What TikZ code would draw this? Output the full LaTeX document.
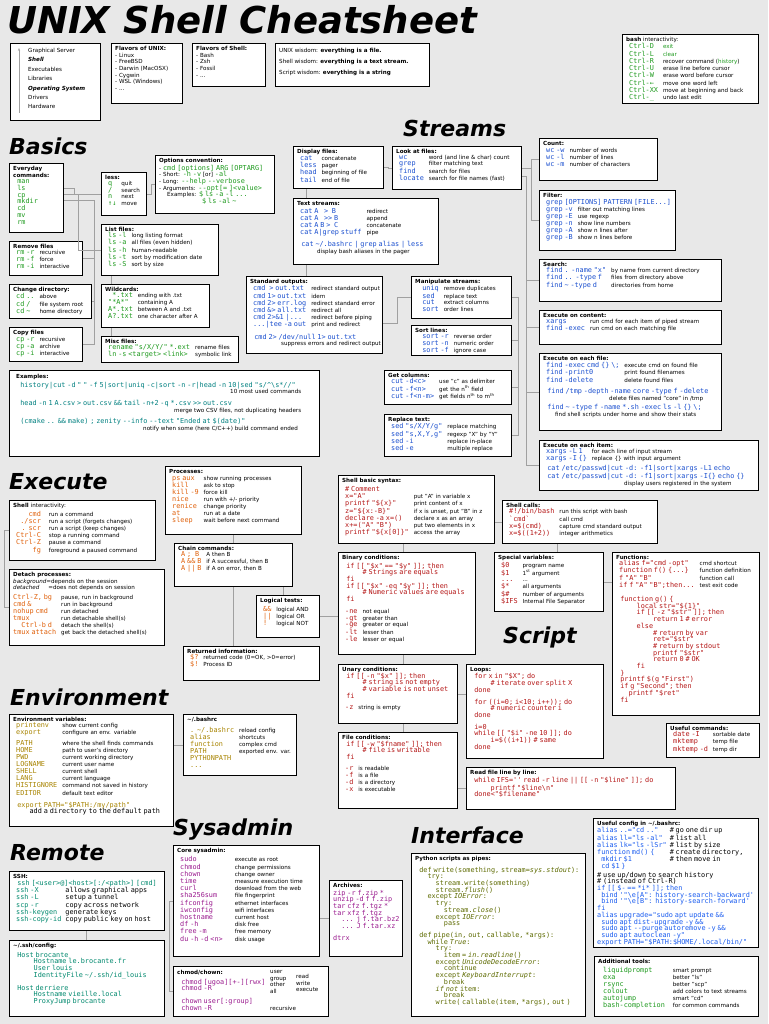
\documentclass[tikz,border=0pt]{standalone}
\usepackage{fontspec}
\usepackage{array}
\setmainfont{DejaVu Sans}
\newfontfamily\cd[Scale=1.22,Ligatures=TeXOff]{DejaVu Sans Mono}
\usetikzlibrary{arrows.meta}
\definecolor{bg}{HTML}{E8E8E8}
\definecolor{cB}{HTML}{1E9A1E}
\definecolor{cS}{HTML}{1A4FCF}
\definecolor{cE}{HTML}{E0600A}
\definecolor{cR}{HTML}{B51616}
\definecolor{cV}{HTML}{A88400}
\definecolor{cY}{HTML}{9A1A8E}
\definecolor{cT}{HTML}{00896E}
\definecolor{cP}{HTML}{5E6B00}
\definecolor{cC}{HTML}{1A5CF0}
\definecolor{cX}{HTML}{008080}
\definecolor{ln}{HTML}{A0A0A0}
\newcommand\tld{\textasciitilde}
\newcommand\bs{\textbackslash}
\newcommand\ii[1]{\hspace*{#1\dimexpr 4.1pt\relax}}
\newcommand\tb[2]{\begin{tabular}{@{\hspace{3pt}}>{\cd\color{#1}}l@{\hspace{5pt}}l@{}}#2\end{tabular}}
\newcommand\tbr[2]{\begin{tabular}{@{\hspace{3pt}}>{\cd\color{#1}}r@{\hspace{8pt}}l@{}}#2\end{tabular}}
\newcommand\mc[2]{\multicolumn{2}{@{\hspace{3pt}}l@{}}{\cd\color{#1}#2}}
\newcommand\bx[6]{%
 \node[box,minimum width=#4pt,minimum height=#5pt,anchor=north west] (#1) at (#2,#3) {};
 \node[txt,anchor=north west,text width=240pt] at ([xshift=4pt,yshift=-3pt]#1.north west) {\noindent #6};}
\begin{document}
\begin{tikzpicture}[x=1pt,y=-1pt,
 box/.style={draw=black,line width=1.1pt,fill=white,inner sep=0pt},
 txt/.style={inner sep=0pt,align=left,font=\fontsize{5.6}{6.7}\selectfont},
 conn/.style={draw=ln,line width=0.8pt},
 sect/.style={anchor=base west,inner sep=0pt,font=\fontsize{22}{22}\selectfont\bfseries\itshape}]
\useasboundingbox (0,0) rectangle (768,1024);
\fill[bg] (0,0) rectangle (768,1024);
% titles
\node[anchor=base west,inner sep=0pt,font=\fontsize{37}{37}\selectfont\bfseries\itshape] (title) at (7,34) {UNIX Shell Cheatsheet};
\node[sect] (sbas) at (9,155) {Basics};
\node[sect] (sstr) at (403,137) {Streams};
\node[sect] (sexe) at (9,489) {Execute};
\node[sect] (senv) at (10,705) {Environment};
\node[sect] (ssys) at (173,835) {Sysadmin};
\node[sect] (srem) at (10,860) {Remote};
\node[sect] (sscr) at (503,643) {Script};
\node[sect] (sint) at (411,843) {Interface};
% top boxes
\node[box,minimum width=90pt,minimum height=77pt,anchor=north west] (layers) at (10,43) {};
\draw[ln,line width=0.8pt,-{Stealth[length=3pt]}] ([shift={(9pt,-70pt)}]layers.north west) -- ([shift={(9pt,-5pt)}]layers.north west);
\node[txt,anchor=north west,font=\fontsize{5.6}{9.4}\selectfont] at ([shift={(18pt,-5pt)}]layers.north west)
 {Graphical Server\\{\bfseries\itshape Shell}\\Executables\\Libraries\\{\bfseries\itshape Operating System}\\Drivers\\Hardware};
\bx{fux}{111}{43}{71}{60}{{\bfseries Flavors of UNIX:}\\- Linux\\- FreeBSD\\- Darwin (MacOSX)\\- Cygwin\\- WSL (Windows)\\- ...}
\bx{fsh}{192}{43}{73}{43}{{\bfseries Flavors of Shell:}\\- Bash\\- Zsh\\- Fossil\\- ...}
\node[box,minimum width=154pt,minimum height=43pt,anchor=north west] (wis) at (275,43) {};
\node[txt,anchor=north west,font=\fontsize{5.6}{11}\selectfont] at ([shift={(4pt,-5pt)}]wis.north west)
 {UNIX wisdom: \textbf{everything is a file.}\\Shell wisdom: \textbf{everything is a text stream.}\\Script wisdom: \textbf{everything is a string}};
\bx{bint}{622}{34}{136}{69}{{\bfseries bash} interactivity:\\\tb{cB}{Ctrl-D & \color{cB}exit\\Ctrl-L & \color{cB}clear\\Ctrl-R & recover command ({\color{cB}history})\\Ctrl-U & erase line before cursor\\Ctrl-W & erase word before cursor\\Ctrl-← & move one word left\\Ctrl-XX & move at beginning and back\\Ctrl-\_ & undo last edit}}
% Basics
\bx{ev}{9}{163}{54}{69}{{\bfseries Everyday}\\{\bfseries commands:}\\\cd\color{cB}\ii{1}man\\\ii{1}ls\\\ii{1}cp\\\ii{1}mkdir\\\ii{1}cd\\\ii{1}mv\\\ii{1}rm}
\bx{less}{101}{172}{45}{43}{{\bfseries less:}\\\tb{cB}{q & quit\\/ & search\\n & next\\↑↓ & move}}
\bx{opt}{155}{155}{119}{58}{{\bfseries Options convention:}\\[1pt]- {\cd\color{cB}cmd [options] ARG [OPTARG]}\\- Short: {\cd\color{cB}-h -v} [or] {\cd\color{cB}-al}\\- Long: {\cd\color{cB}--help --verbose}\\- Arguments: {\cd\color{cB}--opt[= ]<value>}\\\hspace*{8pt}Examples: {\cd\color{cB}\$ ls -a -l ...}\\\hspace*{43pt}{\cd\color{cB}\$ ls -al \tld}}
\bx{list}{101}{224}{117}{51}{{\bfseries List files:}\\\tb{cB}{ls -l & long listing format\\ls -a & all files (even hidden)\\ls -h & human-readable\\ls -t & sort by modification date\\ls -S & sort by size}}
\bx{rm}{9}{241}{73}{34}{{\bfseries Remove files}\\\tb{cB}{rm -r & recursive\\rm -f & force\\rm -i & interactive}}
\bx{chd}{9}{284}{82}{34}{{\bfseries Change directory:}\\\tb{cB}{cd .. & above\\cd / & file system root\\cd \tld & home directory}}
\bx{wild}{101}{284}{108}{43}{{\bfseries Wildcards:}\\\tb{cB}{\ii{1}*.txt & ending with .txt\\\relax "*A*" & containing A\\\relax A*.txt & between A and .txt\\\relax A?.txt & one character after A}}
\bx{cpf}{9}{327}{73}{34}{{\bfseries Copy files}\\\tb{cB}{cp -r & recursive\\cp -a & archive\\cp -i & interactive}}
\bx{misc}{101}{336}{137}{26}{{\bfseries Misc files:}\\\tb{cB}{rename "s/X/Y/" *.ext & rename files\\ln -s <target> <link> & symbolic link}}
\node[box,minimum width=310pt,minimum height=86pt,anchor=north west] (ex) at (9,370) {};
\node[txt,anchor=north west,text width=300pt] at ([shift={(7pt,-4pt)}]ex.north west)
 {\noindent{\bfseries Examples:}\\[2pt]
 {\cd\color{cX}\ii{1}history|cut -d " " -f 5|sort|uniq -c|sort -n -r|head -n 10|sed "s/\textasciicircum\bs s*//"}\\
 \hspace*{214pt}10 most used commands\\[5pt]
 {\cd\color{cX}\ii{1}head -n 1 A.csv > out.csv \&\& tail -n+2 -q *.csv >> out.csv}\\
 \hspace*{158pt}merge two CSV files, not duplicating headers\\[5pt]
 {\cd\color{cX}\ii{1}(cmake .. \&\& make) ; zenity --info --text "Ended at \$(date)"}\\
 \hspace*{127pt}notify when some (here C/C++) build command ended};
% Streams
\bx{disp}{293}{146}{90}{42}{{\bfseries Display files:}\\\tb{cS}{cat & concatenate\\less & pager\\head & beginning of file\\tail & end of file}}
\bx{look}{392}{146}{129}{43}{{\bfseries Look at files:}\\\tb{cS}{wc & word (and line \& char) count\\grep & filter matching text\\find & search for files\\locate & search for file names (fast)}}
\bx{count}{539}{138}{118}{42}{{\bfseries Count:}\\[1pt]\tb{cS}{wc -w & number of words\\wc -l & number of lines\\wc -m & number of characters}}
\bx{filt}{539}{190}{136}{60}{{\bfseries Filter:}\\[1pt]\tb{cS}{\mc{cS}{grep [OPTIONS] PATTERN [FILE...]}\\grep -v & filter out matching lines\\grep -E & use regexp\\grep -n & show line numbers\\grep -A & show n lines after\\grep -B & show n lines before}}
\bx{ts}{293}{198}{145}{66}{{\bfseries Text streams:}\\[2pt]\tb{cS}{cat A \ \ > \ B & redirect\\cat A \ \ >> B & append\\cat A B > \ C & concatenate\\cat A|grep stuff & pipe}\\[4pt]{\cd\color{cS}\ii{1}cat \tld/.bashrc | grep alias | less}\\\hspace*{20pt}display bash aliases in the pager}
\bx{sout}{246}{276}{136}{77}{{\bfseries Standard outputs:}\\\tb{cS}{cmd \ > out.txt & redirect standard output\\cmd 1> out.txt & idem\\cmd 2> err.log & redirect standard error\\cmd \&> all.txt & redirect all\\cmd 2>\&1 |... & redirect before piping\\...|tee -a out & print and redirect}\\[4pt]{\cd\color{cS}\ii{1}cmd 2> /dev/null 1> out.txt}\\\hspace*{31pt}suppress errors and redirect output}
\bx{manip}{411}{276}{100}{42}{{\bfseries Manipulate streams:}\\\tb{cS}{\ii{1}uniq & remove duplicates\\\ii{1}sed & replace text\\\ii{1}cut & extract columns\\\ii{1}sort & order lines}}
\bx{sortl}{411}{325}{100}{30}{{\bfseries Sort lines:}\\\tb{cS}{\ii{1}sort -r & reverse order\\\ii{1}sort -n & numeric order\\\ii{1}sort -f & ignore case}}
\bx{gcol}{384}{370}{127}{34}{{\bfseries Get columns:}\\\tb{cS}{cut -d<c> & use "c" as delimiter\\cut -f<n> & get the n\textsuperscript{th} field\\cut -f<n-m> & get fields n\textsuperscript{th} to m\textsuperscript{th}}}
\bx{repl}{384}{414}{127}{42}{{\bfseries Replace text:}\\\tb{cS}{sed "s/X/Y/g" & replace matching\\sed "s,X,Y,g" & regexp "X" by "Y"\\sed -i & replace in-place\\sed -e & multiple replace}}
\bx{srch}{539}{259}{182}{42}{{\bfseries Search:}\\\tb{cS}{find . -name "x" & by name from current directory\\find .. -type f & files from directory above\\find \tld{} -type d & directories from home}}
\bx{exc}{539}{310}{182}{34}{{\bfseries Execute on content:}\\\tb{cS}{xargs & run cmd for each item of piped stream\\find -exec & run cmd on each matching file}}
\bx{exf}{539}{353}{182}{77}{{\bfseries Execute on each file:}\\[1pt]\tb{cS}{find -exec cmd \{\} \bs; & execute cmd on found file\\find -print0 & print found filenames\\find -delete & delete found files}\\[3pt]{\cd\color{cS}\ii{1}find /tmp -depth -name core -type f -delete}\\\hspace*{66pt}delete files named "core" in /tmp\\[3pt]{\cd\color{cS}\ii{1}find \tld{} -type f -name *.sh -exec ls -l \{\} \bs;}\\\hspace*{12pt}find shell scripts under home and show their stats}
\bx{exi}{539}{440}{219}{50}{{\bfseries Execute on each item:}\\\tb{cS}{xargs -L 1 & for each line of input stream\\xargs -I \{\} & replace \{\} with input argument}\\[2pt]{\cd\color{cS}\ii{1}cat /etc/passwd|cut -d: -f1|sort|xargs -L1 echo}\\{\cd\color{cS}\ii{1}cat /etc/passwd|cut -d: -f1|sort|xargs -I\{\} echo \{\}}\\\hspace*{81pt}display users registered in the system}
% Execute
\bx{shi}{9}{500}{146}{60}{{\bfseries Shell} interactivity:\\[2pt]\tbr{cE}{cmd & run a command\\./scr & run a script (forgets changes)\\. scr & run a script (keep changes)\\Ctrl-C & stop a running command\\Ctrl-Z & pause a command\\fg & foreground a paused command}}
\bx{proc}{165}{466}{136}{68}{{\bfseries Processes:}\\[1pt]\tb{cE}{ps aux & show running processes\\kill & ask to stop\\kill -9 & force kill\\nice & run with +/- priority\\renice & change priority\\at & run at a date\\sleep & wait before next command}}
\bx{chain}{174}{543}{118}{43}{{\bfseries Chain commands:}\\\tb{cE}{A ; \ B & A then B\\A \&\& B & if A successful, then B\\A || B & if A on error, then B}}
\bx{det}{9}{569}{155}{76}{{\bfseries Detach processes:}\\\textit{background}=depends on the session\\\textit{detached}\hspace{9pt}=does not depends on session\\[2pt]\begin{tabular}{@{}>{\cd\color{cE}}l@{\hspace{5pt}}l@{}}Ctrl-Z, bg & pause, run in background\\cmd \& & run in background\\nohup cmd & run detached\\tmux & run detachable shell(s)\\\ii{2}Ctrl-b d & detach the shell(s)\\tmux attach & get back the detached shell(s)\end{tabular}}
\bx{logi}{256}{595}{63}{42}{{\bfseries Logical tests:}\\[2pt]\tb{cE}{\&\& & logical AND\\|| & logical OR\\! & logical NOT}}
\bx{ret}{183}{646}{136}{34}{{\bfseries Returned information:}\\\tb{cE}{\$? & returned code (0=OK, >0=error)\\\$! & Process ID}}
% Script
\bx{sbs}{338}{475}{156}{68}{{\bfseries Shell basic syntax:}\\[2pt]\tb{cR}{\mc{cR}{\# Comment}\\x="A" & put "A" in variable x\\printf "\$\{x\}" & print content of x\\z="\$\{x:-B\}" & if x is unset, put "B" in z\\declare -a x=() & declare x as an array\\x+=("A" "B") & put two elements in x\\printf "\$\{x[0]\}" & access the array}}
\bx{calls}{502}{500}{155}{43}{{\bfseries Shell calls:}\\\tb{cR}{\#!/bin/bash & run this script with bash\\`cmd` & call cmd\\x=\$(cmd) & capture cmd standard output\\x=\$((1+2)) & integer arithmetics}}
\bx{bin}{338}{552}{137}{102}{{\bfseries Binary conditions:}\\[2pt]{\cd\color{cR}\ii{1}if [[ "\$x" == "\$y" ]]; then\\\ii{5}\# Strings are equals\\\ii{1}fi\\\ii{1}if [[ "\$x" -eq "\$y" ]]; then\\\ii{5}\# Numeric values are equals\\\ii{1}fi}\\[6pt]\tb{cR}{-ne & not equal\\-gt & greater than\\-ge & greater or equal\\-lt & lesser than\\-le & lesser or equal}}
\bx{spec}{494}{552}{109}{59}{{\bfseries Special variables:}\\[1pt]\tb{cR}{\$0 & program name\\\$1 & 1\textsuperscript{st} argument\\... & ...\\\$* & all arguments\\\$\# & number of arguments\\\$IFS & Internal File Separator}}
\bx{fun}{612}{552}{147}{163}{{\bfseries Functions:}\\\tb{cR}{alias f="cmd -opt" & cmd shortcut\\function f() \{...\} & function definition\\f "A" "B" & function call\\if f "A" "B";then... & test exit code}\\[6pt]{\cd\color{cR}\ii{1}function g() \{\\\ii{5}local str="\$\{1\}"\\\ii{5}if [[ -z "\$str" ]]; then\\\ii{9}return 1 \# error\\\ii{5}else\\\ii{9}\# return by var\\\ii{9}ret="\$str"\\\ii{9}\# return by stdout\\\ii{9}printf "\$str"\\\ii{9}return 0 \# OK\\\ii{5}fi\\\ii{1}\}\\\ii{1}printf \$(g "First")\\\ii{1}if g "Second"; then\\\ii{3}printf "\$ret"\\\ii{1}fi}}
\bx{un}{338}{664}{119}{59}{{\bfseries Unary conditions:}\\{\cd\color{cR}\ii{1}if [[ -n "\$x" ]]; then\\\ii{5}\# string is not empty\\\ii{5}\# variable is not unset\\\ii{1}fi}\\[5pt]\tb{cR}{-z & string is empty}}
\bx{loops}{466}{664}{137}{94}{{\bfseries Loops:}\\[1pt]{\cd\color{cR}\ii{1}for x in "\$X"; do\\\ii{5}\# iterate over split X\\\ii{1}done\\[5pt]\ii{1}for ((i=0; i<10; i++)); do\\\ii{5}\# numeric counter i\\\ii{1}done\\[5pt]\ii{1}i=0\\\ii{1}while [[ "\$i" -ne 10 ]]; do\\\ii{5}i=\$((i+1)) \# same\\\ii{1}done}}
\bx{usef}{666}{723}{93}{34}{{\bfseries Useful commands:}\\\tb{cR}{date -I & sortable date\\mktemp & temp file\\mktemp -d & temp dir}}
\bx{fc}{338}{732}{119}{76}{{\bfseries File conditions:}\\{\cd\color{cR}\ii{1}if [[ -w "\$fname" ]]; then\\\ii{5}\# file is writable\\\ii{1}fi}\\[5pt]\tb{cR}{-r & is readable\\-f & is a file\\-d & is a directory\\-x & is executable}}
\bx{rd}{466}{767}{209}{42}{{\bfseries Read file line by line:}\\[1pt]{\cd\color{cR}\ii{1}while IFS='' read -r line || [[ -n "\$line" ]]; do\\\ii{5}printf "\$line\bs n"\\\ii{1}done<"\$filename"}}
% Environment
\bx{envv}{9}{714}{164}{112}{{\bfseries Environment variables:}\\\tb{cV}{printenv & show current config\\export & configure an env. variable\\[4pt]PATH & where the shell finds commands\\HOME & path to user's directory\\PWD & current working directory\\LOGNAME & current user name\\SHELL & current shell\\LANG & current language\\HISTIGNORE & command not saved in history\\EDITOR & default text editor}\\[4pt]{\cd\color{cV}\ii{1}export PATH="\$PATH:/my/path"}\\{\cd\ii{4}add a directory to the default path}}
\bx{brc}{183}{714}{113}{61}{{\bfseries \tld/.bashrc}\\[4pt]\tb{cV}{. \tld/.bashrc & reload config\\alias & shortcuts\\function & complex cmd\\PATH & exported env. var.\\PYTHONPATH & \\... & }}
% Sysadmin
\bx{core}{173}{845}{146}{111}{{\bfseries Core sysadmin:}\\[2pt]\begin{tabular}{@{\hspace{3pt}}>{\cd\color{cY}}l@{\hspace{12pt}}l@{}}sudo & execute as root\\chmod & change permissions\\chown & change owner\\time & measure execution time\\curl & download from the web\\sha256sum & file fingerprint\\ifconfig & ethernet interfaces\\iwconfig & wifi interfaces\\hostname & current host\\df -h & disk free\\free -m & free memory\\du -h -d <n> & disk usage\end{tabular}}
\bx{arc}{329}{880}{73}{76}{{\bfseries Archives:}\\[1pt]{\cd\color{cY}zip -r f.zip *\\unzip -d f f.zip\\tar cfz f.tgz *\\tar xfz f.tgz\\\ii{2}... j f.tar.bz2\\\ii{2}... J f.tar.xz\\[5pt]dtrx}}
\node[box,minimum width=155pt,minimum height=50pt,anchor=north west] (chm) at (173,966) {};
\node[txt,anchor=north west,text width=100pt] at ([shift={(4pt,-4pt)}]chm.north west) {\noindent{\bfseries chmod/chown:}\\[3pt]{\cd\color{cY}\ii{1}chmod [ugoa][+-][rwx]\\\ii{1}chmod -R\\[6pt]\ii{1}chown user[:group]\\\ii{1}chown -R}};
\node[txt,anchor=north west] at ([shift={(97pt,-4pt)}]chm.north west) {user\\group\\other\\all};
\node[txt,anchor=north west] at ([shift={(123pt,-8pt)}]chm.north west) {read\\write\\execute};
\node[txt,anchor=north west] at ([shift={(97pt,-40pt)}]chm.north west) {recursive};
% Remote
\bx{ssh}{9}{871}{155}{59}{{\bfseries SSH:}\\{\cd\color{cT}\ii{1}ssh [<user>@]<host>[:/<path>] [cmd]}\\\begin{tabular}{@{\hspace{3pt}}>{\cd\color{cT}}l@{\hspace{4pt}}>{\cd}l@{}}ssh -X & allows graphical apps\\ssh -L & setup a tunnel\\scp -r & copy across network\\ssh-keygen & generate keys\\ssh-copy-id & copy public key on host\end{tabular}}
\bx{sshc}{9}{940}{155}{76}{{\bfseries \tld/.ssh/config:}\\[3pt]{\cd\color{cT}\ii{1}Host brocante\\\ii{5}Hostname le.brocante.fr\\\ii{5}User louis\\\ii{5}IdentityFile \tld/.ssh/id\_louis\\[5pt]\ii{1}Host derriere\\\ii{5}Hostname vieille.local\\\ii{5}ProxyJump brocante}}
% Interface
\bx{py}{411}{853}{174}{163}{{\bfseries Python scripts as pipes:}\\[5pt]{\cd\color{cP}\ii{1}def write(something, stream=\textit{sys.stdout}):\\\ii{3}try:\\\ii{5}stream.write(something)\\\ii{5}stream.\textit{flush}()\\\ii{3}except \textit{IOError}:\\\ii{5}try:\\\ii{7}stream.\textit{close}()\\\ii{5}except \textit{IOError}:\\\ii{7}pass\\[5pt]\ii{1}def pipe(in, out, callable, *args):\\\ii{3}while \textit{True}:\\\ii{5}try:\\\ii{7}item = \textit{in.readline}()\\\ii{5}except \textit{UnicodeDecodeError}:\\\ii{7}continue\\\ii{5}except \textit{KeyboardInterrupt}:\\\ii{7}break\\\ii{5}\textit{if not} item:\\\ii{7}break\\\ii{5}write( callable(item, *args), out )}}
\bx{cfg}{593}{818}{165}{129}{{\bfseries Useful config in \tld/.bashrc:}\\\begin{tabular}{@{}>{\cd\color{cC}}l@{\hspace{3pt}}>{\cd}l@{}}alias ..="cd .." & \# go one dir up\\alias ll="ls -al" & \# list all\\alias lk="ls -lSr" & \# list by size\\function md() \{ & \# create directory,\\\ii{1}mkdir \$1 & \# then move in\\\ii{1}cd \$1 \} & \end{tabular}\\{\cd\# use up/down to search history\\\# (instead of Ctrl-R)}\\{\cd\color{cC}if [[ \$- == *i* ]]; then\\\ii{1}bind '"\bs e[A": history-search-backward'\\\ii{1}bind '"\bs e[B": history-search-forward'\\fi\\alias upgrade="sudo apt update \&\&\\\ii{1}sudo apt dist-upgrade -y \&\&\\\ii{1}sudo apt --purge autoremove -y \&\&\\\ii{1}sudo apt autoclean -y"\\export PATH="\$PATH:\$HOME/.local/bin/"}}
\bx{tools}{594}{956}{164}{60}{{\bfseries Additional tools:}\\[3pt]\begin{tabular}{@{\hspace{5pt}}>{\cd\color{cB}}l@{\hspace{8pt}}l@{}}liquidprompt & smart prompt\\exa & better "ls"\\rsync & better "scp"\\colout & add colors to text streams\\autojump & smart "cd"\\bash-completion & for common commands\end{tabular}}
% connectors
\draw[conn] ([yshift=10pt]ev.east) -- ++(10,0) |- (less.west);
\draw[conn] ([yshift=4pt]ev.east) -- ++(14,0) |- (list.west);
\draw[conn] ([yshift=-2pt]ev.east) -- ++(30,0) |- (rm.east);
\draw[conn] ([yshift=-2pt]ev.east) -- ++(30,0) |- (chd.east);
\draw[conn] ([yshift=-2pt]ev.east) -- ++(30,0) |- (cpf.east);
\draw[conn] (less.east) -- ++(4,0) |- (opt.west);
\draw[conn] ([xshift=10pt]list.south west) -- ([xshift=10pt]wild.north west);
\draw[conn] ([xshift=10pt]wild.south west) -- ([xshift=10pt]misc.north west);
\draw[conn] (disp.east) -- ++(4,0) |- (look.west);
\draw[conn] ([xshift=13pt]disp.south west) -- ([xshift=13pt]ts.north west);
\draw[conn] ([xshift=13pt]ts.south west) -- ([xshift=60pt]sout.north west);
\draw[conn] ([yshift=-8pt]sout.east) -- ++(14,0) |- (manip.west);
\draw[conn] (manip.east) -- ++(6,0) |- (sortl.east);
\draw[conn] (manip.east) -- ++(6,0) |- (gcol.east);
\draw[conn] (manip.east) -- ++(6,0) |- (repl.east);
\draw[conn] (look.east) -- ++(9,0) |- (count.west);
\draw[conn] (look.east) -- ++(9,0) |- (filt.west);
\draw[conn] ([yshift=-8pt]look.east) -- ++(4,0) |- (srch.west);
\draw[conn] ([yshift=-8pt]look.east) -- ++(4,0) |- (exc.west);
\draw[conn] ([yshift=-8pt]look.east) -- ++(4,0) |- (exf.west);
\draw[conn] ([yshift=-8pt]look.east) -- ++(4,0) |- (exi.west);
\draw[conn] (shi.west) -- ++(-5,0) |- (det.west);
\draw[conn] (chain.north) -- (chain.north |- proc.south);
\draw[conn] ([xshift=-10pt]chain.south east) -- ([xshift=-10pt]chain.south east |- logi.north);
\draw[conn] ([xshift=-60pt]chain.south east) -- ([xshift=-60pt]chain.south east |- ret.north);
\draw[conn] (logi.east) -- (logi.east -| bin.west);
\draw[conn] (sbs.east |- calls.west) -- (calls.west);
\draw[conn] ([xshift=65pt]sbs.south west) -- ([xshift=65pt]bin.north west);
\draw[conn] ([xshift=65pt]bin.south west) -- ([xshift=65pt]un.north west);
\draw[conn] ([xshift=65pt]un.south west) -- ([xshift=65pt]fc.north west);
\draw[conn] ([xshift=55pt]calls.south west) -- ([xshift=55pt]calls.south west |- spec.north);
\draw[conn] (spec.east) -- (spec.east -| fun.west);
\draw[conn] (un.east) -- (un.east -| loops.west);
\draw[conn] (fc.east |- rd.west) -- (rd.west);
\draw[conn] (brc.west) -- (brc.west -| envv.east);
\draw[conn] (core.west) -- ++(-4,0) |- (chm.west);
\draw[conn] (arc.west) -- (arc.west -| core.east);
\draw[conn] ([xshift=77pt]ssh.south west) -- ([xshift=77pt]sshc.north west);
\end{tikzpicture}
\end{document}
